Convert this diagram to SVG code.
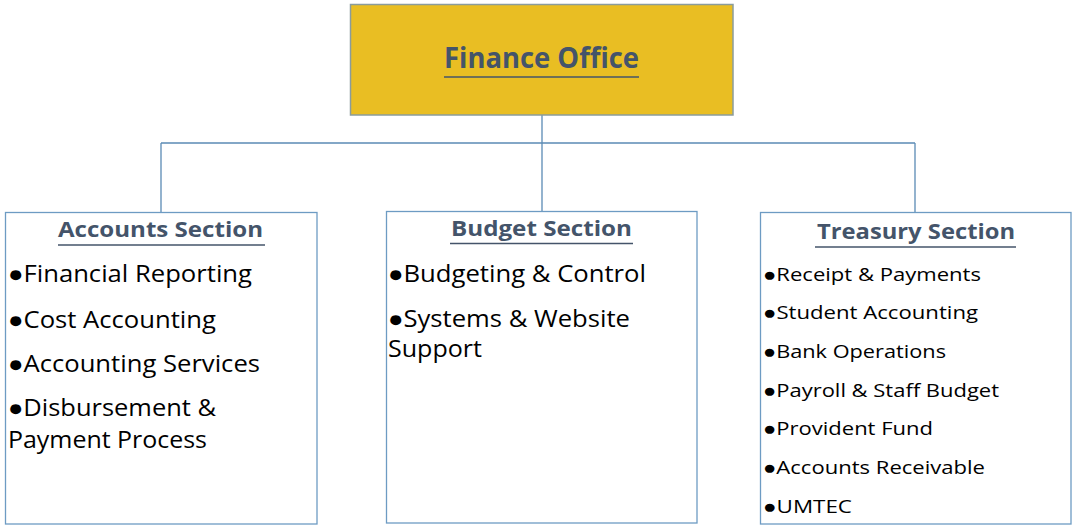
<svg xmlns="http://www.w3.org/2000/svg" width="1076" height="530" viewBox="0 0 1076 530">
<style>
.box{fill:#ffffff;stroke:#6d9bc3;stroke-width:1.3}
.top{fill:#E9BE23;stroke:#8a9c9c;stroke-width:1.5}
.conn{stroke:#5b8bb5;stroke-width:1.3;fill:none}
.h{font-family:"Open Sans","Liberation Sans",sans-serif;font-weight:bold;fill:#44546A}
.u{stroke:#44546A;stroke-width:1.5}
.it{font-family:"Open Sans","Liberation Sans",sans-serif;fill:#000000}
</style>
<rect width="1076" height="530" fill="#ffffff"/>
<g id="connectors">
<path class="conn" d="M542 115V143M161 143H915M161 143V212M542 143V211M915 143V212"/>
</g>
<g id="finance-office">
<rect class="top" x="350.5" y="4.5" width="382.5" height="110.5"/>
<text class="h" x="444" y="68" font-size="28" textLength="195" lengthAdjust="spacingAndGlyphs">Finance Office</text>
<line class="u" x1="444" y1="77" x2="639" y2="77" stroke-width="2"/>
</g>
<g id="accounts-section">
<rect class="box" x="5.5" y="212.5" width="311.5" height="311.5"/>
<text class="h" x="58" y="237" font-size="21.5" textLength="205" lengthAdjust="spacingAndGlyphs">Accounts Section</text>
<line class="u" x1="58" y1="245" x2="265" y2="245"/>
<g class="it" font-size="23.5">
<text x="8" y="282" textLength="244" lengthAdjust="spacingAndGlyphs">●Financial Reporting</text>
<text x="8" y="328" textLength="208" lengthAdjust="spacingAndGlyphs">●Cost Accounting</text>
<text x="8" y="372" textLength="252" lengthAdjust="spacingAndGlyphs">●Accounting Services</text>
<text x="8" y="416" textLength="208" lengthAdjust="spacingAndGlyphs">●Disbursement &amp;</text>
<text x="8" y="448" textLength="199" lengthAdjust="spacingAndGlyphs">Payment Process</text>
</g>
</g>
<g id="budget-section">
<rect class="box" x="386.5" y="211.5" width="310.5" height="311.5"/>
<text class="h" x="451" y="236" font-size="21.5" textLength="181" lengthAdjust="spacingAndGlyphs">Budget Section</text>
<line class="u" x1="450" y1="243.5" x2="633" y2="243.5"/>
<g class="it" font-size="23.5">
<text x="388" y="282" textLength="258" lengthAdjust="spacingAndGlyphs">●Budgeting &amp; Control</text>
<text x="388" y="327" textLength="242" lengthAdjust="spacingAndGlyphs">●Systems &amp; Website</text>
<text x="388" y="357" textLength="94" lengthAdjust="spacingAndGlyphs">Support</text>
</g>
</g>
<g id="treasury-section">
<rect class="box" x="760.5" y="212.5" width="310.5" height="311.5"/>
<text class="h" x="817" y="239" font-size="21.5" textLength="198" lengthAdjust="spacingAndGlyphs">Treasury Section</text>
<line class="u" x1="815" y1="247" x2="1016" y2="247"/>
<g class="it" font-size="19">
<text x="763" y="281" textLength="218" lengthAdjust="spacingAndGlyphs">●Receipt &amp; Payments</text>
<text x="763" y="319" textLength="215" lengthAdjust="spacingAndGlyphs">●Student Accounting</text>
<text x="763" y="358" textLength="183" lengthAdjust="spacingAndGlyphs">●Bank Operations</text>
<text x="763" y="397" textLength="236" lengthAdjust="spacingAndGlyphs">●Payroll &amp; Staff Budget</text>
<text x="763" y="435" textLength="170" lengthAdjust="spacingAndGlyphs">●Provident Fund</text>
<text x="763" y="474" textLength="222" lengthAdjust="spacingAndGlyphs">●Accounts Receivable</text>
<text x="763" y="513" textLength="89" lengthAdjust="spacingAndGlyphs">●UMTEC</text>
</g>
</g>
</svg>
